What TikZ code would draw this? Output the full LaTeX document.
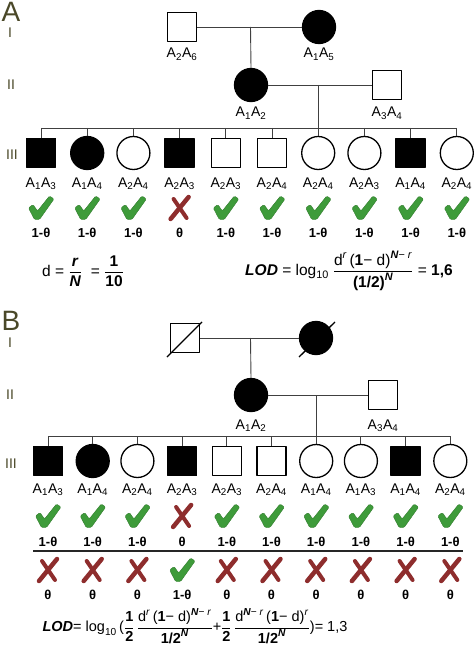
\documentclass[tikz,border=0pt]{standalone}
\usepackage{amsmath}
\usepackage{fontspec}
\setmainfont{Liberation Sans}
\usetikzlibrary{calc}
\definecolor{chkgreen}{HTML}{3E9B3A}
\definecolor{crsred}{HTML}{8E2D2D}
\definecolor{gencol}{HTML}{4A4828}
\newcommand{\tx}[1]{\text{#1}}
\newcommand{\gt}[2]{A\textsubscript{#1}A\textsubscript{#2}}

\tikzset{
  male/.style={draw,line width=1.3pt,minimum size=29pt,inner sep=0pt},
  female/.style={draw,circle,line width=1.3pt,minimum size=33pt,inner sep=0pt},
  aff/.style={fill=black},
  sqO/.style={male}, sqF/.style={male,aff},
  ciO/.style={female}, ciF/.style={female,aff},
  geno/.style={anchor=base,font=\fontsize{14}{16}\selectfont,inner sep=0pt},
  gen/.style={text=gencol,font=\fontsize{14}{16}\selectfont,inner sep=0pt},
  panel/.style={text=gencol,font=\fontsize{28}{30}\selectfont,inner sep=0pt},
  prob/.style={anchor=base,font=\fontsize{13}{15}\selectfont\bfseries,inner sep=0pt},
  frm/.style={font=\fontsize{15.5}{18}\selectfont,inner sep=0pt},
  rel/.style={draw=black!75,line width=0.9pt},
  chk/.pic={\fill[chkgreen,draw=chkgreen!80!black,line width=0.4pt,rounded corners=1.2pt]
      (-12.5,0) -- (-8,-3.5) -- (-3.5,3) -- (8.5,-12) -- (13,-9) -- (-1.5,11.5) -- (-6.5,11.5) -- cycle;},
  crs/.pic={\draw[crsred,line width=4.5pt,line cap=round] (9,-11) -- (-9,11);
            \draw[crsred,line width=4pt,line cap=round] (-6,-9) -- (7,10);},
}

\begin{document}
\begin{tikzpicture}[x=1pt,y=-1pt,line join=round]
  \useasboundingbox (0,0) rectangle (474,647);

  % ---------- panel A ----------
  \node[panel] (pA) at (11,12) {A};
  \node[gen] (gAI)   at (10,33)  {I};
  \node[gen] (gAII)  at (11,85)  {II};
  \node[gen] (gAIII) at (12,155) {III};

  % generation I
  \node[sqO] (aI1) at (182,27) {};
  \node[ciF] (aI2) at (319,27) {};
  \node[geno] at (182,58) {\gt{2}{6}};
  \node[geno] at (319,58) {\gt{1}{5}};
  \draw[rel] (aI1) -- (aI2);
  \coordinate (amI) at ($(aI1)!0.5!(aI2)$);

  % generation II
  \node[ciF] (aII1) at (251,85) {};
  \node[sqO] (aII2) at (387,85) {};
  \node[geno] at (251,117) {\gt{1}{2}};
  \node[geno] at (387,117) {\gt{3}{4}};
  \draw[rel] (amI) -- (aII1.north);
  \draw[rel] (aII1) -- (aII2);

  % generation III
  \foreach \sty/\ga/\gb/\mk/\pr [count=\i] in {sqF/1/3/chk/1-θ, ciF/1/4/chk/1-θ, ciO/2/4/chk/1-θ,
      sqF/2/3/crs/θ, sqO/2/3/chk/1-θ, sqO/2/4/chk/1-θ, ciO/2/4/chk/1-θ, ciO/2/3/chk/1-θ,
      sqF/1/4/chk/1-θ, ciO/2/4/chk/1-θ}{
    \pgfmathsetmacro{\x}{41+46.2*(\i-1)}
    \node[\sty] (ac\i) at (\x,153) {};
    \coordinate (as\i) at (\x,128);
    \draw[rel] (as\i) -- (ac\i.north);
    \node[geno] (ag\i) at (\x,187) {\gt{\ga}{\gb}};
    \pic at (\x,208) {\mk};
    \node[prob] (ap\i) at (\x,237) {\pr};
  }
  \draw[rel] (as1) -- (as10);
  \coordinate (amII) at (ac7 |- aII1);
  \draw[rel] (amII) -- (as7);

  % formulas
  \node[frm] (fd) at (83,271)
    {$\tx{d = }\dfrac{\tx{\textbf{\textit{r}}}}{\tx{\textbf{\textit{N}}}}\tx{ \ = }\dfrac{\tx{\textbf{1}}}{\tx{\textbf{10}}}$};
  \node[frm] (fA) at (349,271)
    {$\tx{\textbf{\textit{LOD}} = log}_{\tx{10}}\;\dfrac{\tx{d}^{\tx{\textit{r}}}\,\tx{(\textbf{1}− d)}^{\tx{\textbf{\textit{N}}− \textit{r}}}}{\tx{\textbf{(1/2)}}^{\tx{\textbf{\textit{N}}}}}\tx{ = \textbf{1,6}}$};

  % ---------- panel B ----------
  \node[panel] (pB) at (11,321) {B};
  \node[gen] (gBI)   at (10,343) {I};
  \node[gen] (gBII)  at (10,395) {II};
  \node[gen] (gBIII) at (11,464) {III};

  % generation I (deceased)
  \node[sqO] (bI1) at (185,338) {};
  \node[ciF] (bI2) at (316,338) {};
  \draw[line width=1.3pt] ($(bI1)+(-18,19)$) -- ($(bI1)+(17,-16)$);
  \draw[line width=1.3pt] ($(bI2)+(-17,19)$) -- ($(bI2)+(19,-16)$);
  \draw[rel] (bI1) -- (bI2);
  \coordinate (bmI) at ($(bI1)!0.5!(bI2)$);

  % generation II
  \node[ciF] (bII1) at (251,395) {};
  \node[sqO] (bII2) at (383,395) {};
  \node[geno] at (251,429) {\gt{1}{2}};
  \node[geno] at (383,429) {\gt{3}{4}};
  \draw[rel] (bmI) -- (bII1.north);
  \draw[rel] (bII1) -- (bII2);

  % generation III
  \foreach \sty/\ga/\gb/\mk/\pr/\mkb/\prb [count=\i] in {sqF/1/3/chk/1-θ/crs/θ, ciF/1/4/chk/1-θ/crs/θ,
      ciO/2/4/chk/1-θ/crs/θ, sqF/2/3/crs/θ/chk/1-θ, sqO/2/3/chk/1-θ/crs/θ, sqO/2/4/chk/1-θ/crs/θ,
      ciO/1/4/chk/1-θ/crs/θ, ciO/1/3/chk/1-θ/crs/θ, sqF/1/4/chk/1-θ/crs/θ, ciO/2/4/chk/1-θ/crs/θ}{
    \pgfmathsetmacro{\x}{48+44.7*(\i-1)}
    \node[\sty] (bc\i) at (\x,461) {};
    \coordinate (bs\i) at (\x,436);
    \draw[rel] (bs\i) -- (bc\i.north);
    \node[geno] (bg\i) at (\x,493) {\gt{\ga}{\gb}};
    \pic at (\x,516) {\mk};
    \node[prob] (bp\i) at (\x,546) {\pr};
    \pic at (\x,570) {\mkb};
    \node[prob] (bq\i) at (\x,599) {\prb};
  }
  \draw[rel] (bs1) -- (bs10);
  \coordinate (bmII) at (bc7 |- bII1);
  \draw[rel] (bmII) -- (bs7);

  % separator
  \draw[black!85,line width=1.6pt] (33,551) -- (463,551);

  % formula
  \node[frm,font=\fontsize{14.5}{17}\selectfont] (fB) at (195,626)
    {$\tx{\textbf{\textit{LOD}}= log}_{\tx{10}}\,\tx{(}\dfrac{\tx{\textbf{1}}}{\tx{\textbf{2}}}\,\dfrac{\tx{d}^{\tx{\textit{r}}}\,\tx{(\textbf{1}− d)}^{\tx{\textbf{\textit{N}}− \textit{r}}}}{\tx{\textbf{1/2}}^{\tx{\textbf{\textit{N}}}}}\tx{+}\dfrac{\tx{\textbf{1}}}{\tx{\textbf{2}}}\,\dfrac{\tx{d}^{\tx{\textbf{\textit{N}}− \textit{r}}}\,\tx{(\textbf{1}− d)}^{\tx{\textit{r}}}}{\tx{\textbf{1/2}}^{\tx{\textbf{\textit{N}}}}}\tx{)= 1,3}$};
\end{tikzpicture}
\end{document}
